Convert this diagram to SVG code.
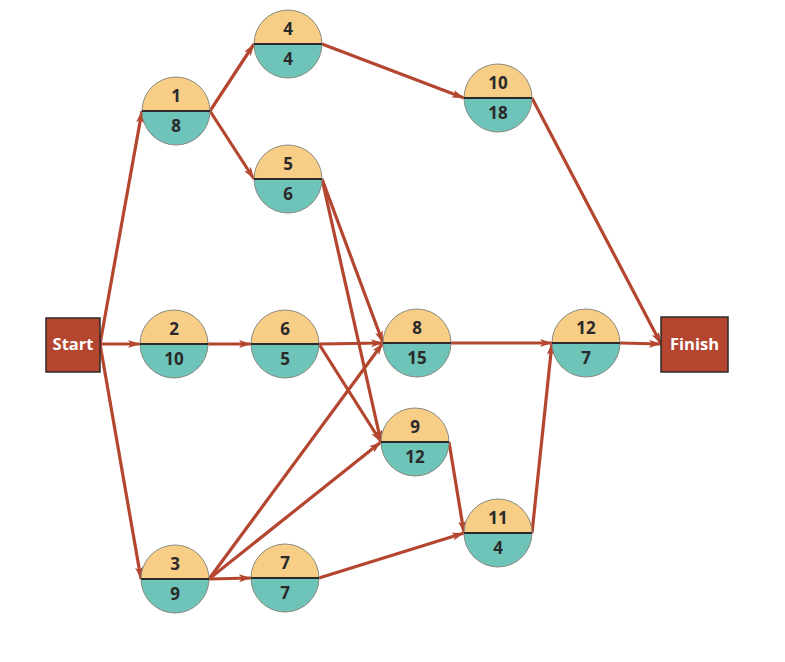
<svg xmlns="http://www.w3.org/2000/svg" width="785" height="662" viewBox="0 0 785 662">
<style>
.e{stroke:#b4462f;stroke-width:3.2;fill:none;marker-end:url(#ah)}
.top{fill:#f8cd86}
.bot{fill:#6ec4b9}
.rim{fill:none;stroke:#8a8a80;stroke-width:1}
.dia{stroke:#2a2a2a;stroke-width:2.2}
.n{font-family:"Open Sans","Liberation Sans",sans-serif;font-weight:700;font-size:17px;fill:#2a2a2a;text-anchor:middle}
.box{fill:#b4462f;stroke:#2a2a2a;stroke-width:1.5}
.bt{font-family:"Open Sans","Liberation Sans",sans-serif;font-weight:700;font-size:16.5px;fill:#ffffff;text-anchor:middle}
</style>
<defs>
<marker id="ah" markerUnits="userSpaceOnUse" markerWidth="14" markerHeight="10" refX="12" refY="4" orient="auto">
<path d="M0,0 L12,4 L0,8 L3,4 Z" fill="#b4462f"/>
</marker>
<g id="circ">
<path class="top" d="M-34,0 A34,34 0 0 1 34,0 Z"/>
<path class="bot" d="M-34,0 A34,34 0 0 0 34,0 Z"/>
<circle class="rim" r="34"/>
<line class="dia" x1="-34" y1="0" x2="34" y2="0"/>
</g>
</defs>
<rect width="785" height="662" fill="#ffffff"/>
<g id="connectors">
<line class="e" x1="100" y1="344" x2="142" y2="111"/>
<line class="e" x1="100" y1="344" x2="140" y2="344"/>
<line class="e" x1="100" y1="344" x2="141" y2="579"/>
<line class="e" x1="210" y1="111" x2="254" y2="44"/>
<line class="e" x1="210" y1="111" x2="254" y2="179"/>
<line class="e" x1="322" y1="44" x2="464" y2="98"/>
<line class="e" x1="532" y1="98" x2="661" y2="344"/>
<line class="e" x1="322" y1="179" x2="383" y2="343"/>
<line class="e" x1="322" y1="179" x2="381" y2="442"/>
<line class="e" x1="208" y1="344" x2="251" y2="344"/>
<line class="e" x1="319" y1="344" x2="383" y2="343"/>
<line class="e" x1="319" y1="344" x2="381" y2="442"/>
<line class="e" x1="451" y1="343" x2="552" y2="343"/>
<line class="e" x1="620" y1="343" x2="661" y2="344"/>
<line class="e" x1="209" y1="579" x2="383" y2="343"/>
<line class="e" x1="209" y1="579" x2="381" y2="442"/>
<line class="e" x1="209" y1="579" x2="251" y2="578"/>
<line class="e" x1="319" y1="578" x2="464" y2="533"/>
<line class="e" x1="449" y1="442" x2="464" y2="533"/>
<line class="e" x1="532" y1="533" x2="552" y2="343"/>
</g>
<g id="start"><rect class="box" x="46" y="318" width="54" height="54"/><text class="bt" x="73" y="350">Start</text></g>
<g id="finish"><rect class="box" x="661" y="317" width="67" height="55"/><text class="bt" x="694.5" y="350">Finish</text></g>
<g id="n1"><use href="#circ" x="176" y="111"/><text class="n" x="176" y="102">1</text><text class="n" x="176" y="132">8</text></g>
<g id="n4"><use href="#circ" x="288" y="44"/><text class="n" x="288" y="35">4</text><text class="n" x="288" y="65">4</text></g>
<g id="n5"><use href="#circ" x="288" y="179"/><text class="n" x="288" y="170">5</text><text class="n" x="288" y="200">6</text></g>
<g id="n10"><use href="#circ" x="498" y="98"/><text class="n" x="498" y="89">10</text><text class="n" x="498" y="119">18</text></g>
<g id="n2"><use href="#circ" x="174" y="344"/><text class="n" x="174" y="335">2</text><text class="n" x="174" y="365">10</text></g>
<g id="n6"><use href="#circ" x="285" y="344"/><text class="n" x="285" y="335">6</text><text class="n" x="285" y="365">5</text></g>
<g id="n8"><use href="#circ" x="417" y="343"/><text class="n" x="417" y="334">8</text><text class="n" x="417" y="364">15</text></g>
<g id="n12"><use href="#circ" x="586" y="343"/><text class="n" x="586" y="334">12</text><text class="n" x="586" y="364">7</text></g>
<g id="n9"><use href="#circ" x="415" y="442"/><text class="n" x="415" y="433">9</text><text class="n" x="415" y="463">12</text></g>
<g id="n11"><use href="#circ" x="498" y="533"/><text class="n" x="498" y="524">11</text><text class="n" x="498" y="554">4</text></g>
<g id="n3"><use href="#circ" x="175" y="579"/><text class="n" x="175" y="570">3</text><text class="n" x="175" y="600">9</text></g>
<g id="n7"><use href="#circ" x="285" y="578"/><text class="n" x="285" y="569">7</text><text class="n" x="285" y="599">7</text></g>
</svg>
